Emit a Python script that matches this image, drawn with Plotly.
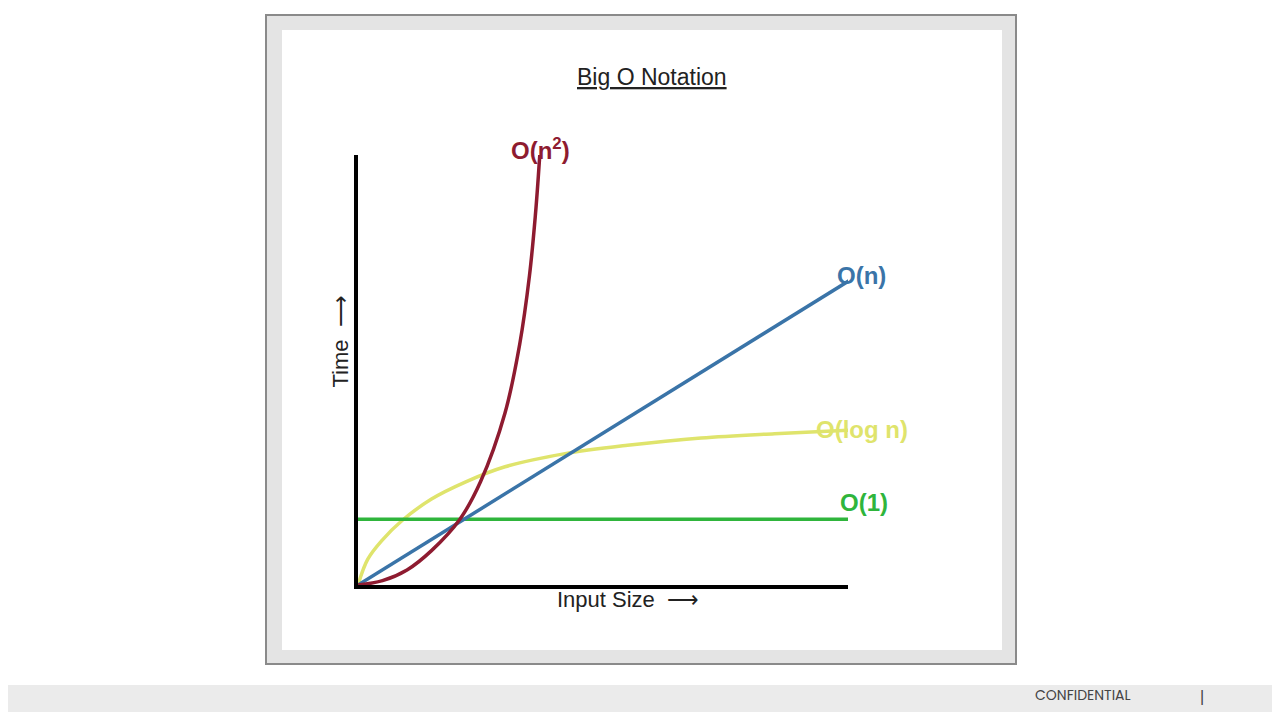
import plotly.graph_objects as go

const_x = [0, 10]; const_y = [1.53, 1.53]
lin_x = [0, 10.04]; lin_y = [0, 7.09]
log_x = [0, 0.2, 0.5, 0.9, 1.5, 2.2, 3, 4.2, 5.5, 7, 8.5, 10]
log_y = [0, 0.6, 1.05, 1.5, 2.0, 2.4, 2.75, 3.05, 3.25, 3.42, 3.52, 3.6]
sq_x = [0, 0.5, 1, 1.5, 2.08, 2.5, 3, 3.3, 3.5, 3.62, 3.68, 3.71]
sq_y = [0, 0.1, 0.35, 0.8, 1.53, 2.4, 4.0, 5.6, 7.2, 8.6, 9.5, 10]

OFF = 8
W, H = 1280 - 2 * OFF, 720 - 2 * OFF
def px(x): return (x - OFF) / W
def py(y): return 1 - (y - OFF) / H

fig = go.Figure()
series = [(log_x, log_y, "#dfe46c"), (const_x, const_y, "#2fb53c"),
          (lin_x, lin_y, "#3a74a8"), (sq_x, sq_y, "#8e1b30")]
for xs, ys, c in series:
    fig.add_trace(go.Scatter(x=xs, y=ys, mode="lines", line=dict(color=c, width=3.5, shape="spline"), showlegend=False))

shapes = [
    dict(type="rect", xref="paper", yref="paper", x0=px(0), x1=px(1280), y0=py(720), y1=py(685), fillcolor="#ebebeb", line=dict(width=0), layer="below"),
    dict(type="rect", xref="paper", yref="paper", x0=px(266), x1=px(1016), y0=py(664), y1=py(15), fillcolor="#e4e4e4", line=dict(color="#8a8a8a", width=2), layer="below"),
    dict(type="rect", xref="paper", yref="paper", x0=px(282), x1=px(1002), y0=py(650), y1=py(30), fillcolor="white", line=dict(width=0), layer="below"),
]
fig.update_layout(
    width=W, height=H, margin=dict(l=0, r=0, t=0, b=0),
    paper_bgcolor="white", plot_bgcolor="rgba(0,0,0,0)", shapes=shapes,
    xaxis=dict(domain=[px(358), px(848)], range=[0, 10], showgrid=False, zeroline=False, showticklabels=False,
               showline=True, linecolor="black", linewidth=4, ticks=""),
    yaxis=dict(domain=[py(585), py(155)], range=[0, 10], showgrid=False, zeroline=False, showticklabels=False,
               showline=True, linecolor="black", linewidth=4, ticks=""),
    font=dict(family="Liberation Sans, Arial", color="#222"),
)
ann = [
    dict(x=px(652), y=py(62), text="<u>Big O Notation</u>", size=23, color="#222"),
    dict(x=px(540), y=py(132), text="<b>O(n<sup>2</sup>)</b>", size=24, color="#8e1b30"),
    dict(x=px(888), y=py(276), text="<b>O(n)</b>", size=24, color="#3a74a8"),
    dict(x=px(910), y=py(429), text="<b>O(log n)</b>", size=24, color="#dfe46c"),
    dict(x=px(890), y=py(518), text="<b>O(1)</b>", size=24, color="#2fb53c"),
    dict(x=px(628), y=py(614), text="Input Size  ⟶", size=22, color="#222"),
    dict(x=px(1133), y=py(707), text="CONFIDENTIAL", size=14, color="#444", family="Poppins, Lato, Arial"),
    dict(x=px(1206), y=py(707), text="|", size=16, color="#444"),
]
for a in ann:
    fig.add_annotation(x=a["x"], y=a["y"], xref="paper", yref="paper", text=a["text"], showarrow=False,
                       font=dict(size=a["size"], color=a["color"], family=a.get("family", "Liberation Sans, Arial")))
fig.add_annotation(x=px(326), y=py(342), xref="paper", yref="paper", text="Time  ⟶", textangle=-90, showarrow=False,
                   font=dict(size=22, color="#222", family="Liberation Sans, Arial"))
fig.write_html("out.html")
